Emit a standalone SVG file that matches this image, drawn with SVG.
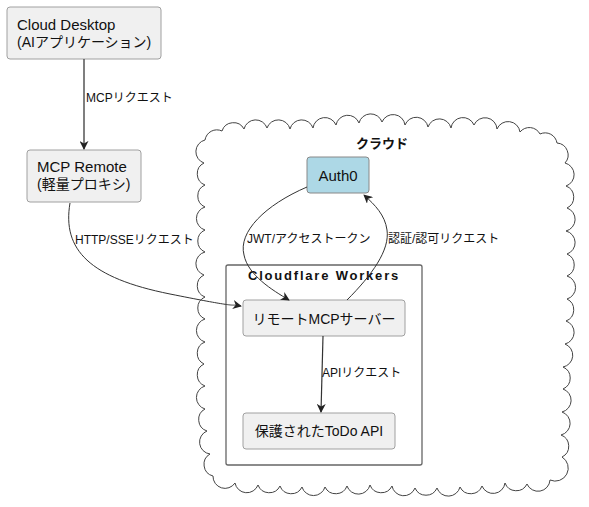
<svg xmlns="http://www.w3.org/2000/svg" width="589" height="507" viewBox="0 0 589 507">
<style>
text{font-family:"Liberation Sans","Noto Sans CJK JP",sans-serif;fill:#111}
.node rect{fill:#f0f0f0;stroke:#a0a0a0;stroke-width:1}
.nt{font-size:14px}
.nl{font-size:15px}
.lbl{font-size:12px}
.edge{fill:none;stroke:#333;stroke-width:1}
.title{font-size:13px;font-weight:bold}
</style>
<defs>
<marker id="arr" viewBox="0 0 10 10" refX="9" refY="5" markerWidth="9" markerHeight="9" markerUnits="userSpaceOnUse" orient="auto">
<path d="M0,0 L10,5 L0,10 L3,5 z" fill="#222"/>
</marker>
</defs>

<g id="cloud">
<path fill="#fff" stroke="#444" stroke-width="1" d="M205,140 A12,12 0 0 1 222,131 A12,12 0 0 1 244,129 A12,12 0 0 1 267,128 A12,12 0 0 1 290,129 A12,12 0 0 1 313,128 A12,12 0 0 1 336,125 A12,12 0 0 1 359,123 A12,12 0 0 1 382,122 A12,12 0 0 1 405,125 A12,12 0 0 1 428,127 A12,12 0 0 1 451,128 A12,12 0 0 1 474,125 A12,12 0 0 1 497,129 A12,12 0 0 1 520,132 A12,12 0 0 1 540,134 A12,12 0 0 1 557,143 A12,12 0 0 1 565,163 A12,12 0 0 1 566,186 A12,12 0 0 1 567,208 A12,12 0 0 1 566,231 A12,12 0 0 1 567,254 A12,12 0 0 1 567,276 A12,12 0 0 1 567,299 A12,12 0 0 1 566,321 A12,12 0 0 1 565,344 A12,12 0 0 1 563,367 A12,12 0 0 1 563,389 A12,12 0 0 1 562,412 A12,12 0 0 1 561,435 A12,12 0 0 1 562,457 A13,13 0 0 1 550,480 A12,12 0 0 1 527,484 A12,12 0 0 1 505,483 A12,12 0 0 1 482,486 A12,12 0 0 1 460,487 A12,12 0 0 1 437,488 A12,12 0 0 1 415,488 A12,12 0 0 1 392,486 A12,12 0 0 1 370,485 A12,12 0 0 1 347,486 A12,12 0 0 1 325,487 A12,12 0 0 1 302,487 A12,12 0 0 1 280,486 A12,12 0 0 1 258,485 A12,12 0 0 1 235,483 A12,12 0 0 1 213,476 A12,12 0 0 1 210,454 A12,12 0 0 1 207,431 A12,12 0 0 1 205,409 A12,12 0 0 1 205,386 A12,12 0 0 1 204,364 A12,12 0 0 1 205,342 A12,12 0 0 1 205,319 A12,12 0 0 1 205,297 A12,12 0 0 1 204,275 A12,12 0 0 1 205,252 A12,12 0 0 1 205,230 A12,12 0 0 1 205,207 A12,12 0 0 1 205,185 A12,12 0 0 1 204,163 A12,12 0 0 1 205,140 Z"/>
<text class="title" x="382" y="148" text-anchor="middle">クラウド</text>
</g>

<g id="cloudflare-workers">
<rect x="226" y="265" width="196" height="200" rx="2" fill="none" stroke="#666" stroke-width="1.3"/>
<text class="title" x="324" y="280" text-anchor="middle" letter-spacing="1.8">Cloudflare Workers</text>
</g>

<g id="cloud-desktop" class="node">
<rect x="7" y="7" width="154" height="52" rx="3"/>
<text class="nl" x="17" y="30">Cloud Desktop</text>
<text class="nt" x="17" y="47">(AIアプリケーション)</text>
</g>

<g id="mcp-remote" class="node">
<rect x="27" y="150" width="114" height="52" rx="3"/>
<text class="nl" x="37" y="172">MCP Remote</text>
<text class="nt" x="37" y="189">(軽量プロキシ)</text>
</g>

<g id="auth0" class="node">
<rect x="307" y="157" width="62" height="36" rx="3" style="fill:#add8e6;stroke:#888"/>
<text class="nl" x="338" y="181" text-anchor="middle">Auth0</text>
</g>

<g id="remote-mcp-server" class="node">
<rect x="243" y="300" width="162" height="36" rx="3"/>
<text class="nt" x="324" y="324" text-anchor="middle">リモートMCPサーバー</text>
</g>

<g id="todo-api" class="node">
<rect x="243" y="413" width="152" height="36" rx="3"/>
<text class="nt" x="319" y="436" text-anchor="middle">保護されたToDo API</text>
</g>

<g id="connectors">
<path class="edge" d="M84,59 L84,149" style="stroke:#555;stroke-width:1.5" marker-end="url(#arr)"/>
<path class="edge" d="M70,203 C62,250 90,278 170,294 S225,303 241,306" marker-end="url(#arr)"/>
<path class="edge" d="M307,187 C265,205 238,232 244,255 C248,275 272,290 289,300" marker-end="url(#arr)"/>
<path class="edge" d="M347,300 C372,275 390,250 387,230 C385,215 375,205 364,195" marker-end="url(#arr)"/>
<path class="edge" d="M323,336 L321,412" style="stroke-width:1.2" marker-end="url(#arr)"/>
<text class="lbl" x="86" y="102">MCPリクエスト</text>
<text class="lbl" x="75" y="244">HTTP/SSEリクエスト</text>
<text class="lbl" x="247" y="243">JWT/アクセストークン</text>
<text class="lbl" x="388" y="243">認証/認可リクエスト</text>
<text class="lbl" x="322" y="377">APIリクエスト</text>
</g>
</svg>
